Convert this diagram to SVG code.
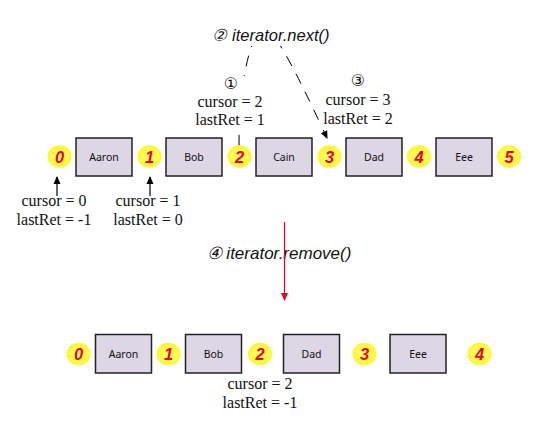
<svg xmlns="http://www.w3.org/2000/svg" width="537" height="427" viewBox="0 0 537 427">
<defs>
<marker id="ab" markerWidth="8" markerHeight="8" refX="7" refY="4" orient="auto" markerUnits="userSpaceOnUse"><path d="M0,0.5 L8,4 L0,7.5 Z" fill="#000"/></marker>
<marker id="ar" markerWidth="8" markerHeight="8" refX="7" refY="4" orient="auto" markerUnits="userSpaceOnUse"><path d="M0,0.5 L8,4 L0,7.5 Z" fill="#E8001C"/></marker>
<radialGradient id="yg" cx="0.5" cy="0.5" r="0.6"><stop offset="0" stop-color="#FFFF80"/><stop offset="1" stop-color="#FFF51E"/></radialGradient>
</defs>
<style>
.box{fill:#DDD6E5;stroke:#222;stroke-width:1.5}
.bt{font-family:"Noto Sans","Liberation Sans",sans-serif;font-size:10.5px;fill:#111;text-anchor:middle}
.el{fill:url(#yg);stroke:none}
.num{font-family:"Liberation Sans",Arial,sans-serif;font-size:16.5px;font-weight:bold;font-style:italic;fill:#F0001C;text-anchor:middle}
.lbl{font-family:"Liberation Serif","DejaVu Serif",serif;font-size:16px;fill:#111;text-anchor:middle}
.circ{font-family:"DejaVu Sans","Noto Sans CJK SC",sans-serif;font-size:16px;fill:#111;text-anchor:middle}
.it{font-family:"Liberation Sans","Noto Sans",sans-serif;font-style:italic;fill:#111;text-anchor:middle}
</style>
<rect width="537" height="427" fill="#fff"/>

<g id="connectors">
<path d="M239,146 C239,60 258,20 268,30 C280,40 300,80 327,138" fill="none" stroke="#000" stroke-width="1" stroke-dasharray="11,9" marker-end="url(#ab)"/>
<line x1="57" y1="196" x2="57" y2="177" stroke="#000" stroke-width="1.2" marker-end="url(#ab)"/>
<line x1="150" y1="196" x2="150" y2="177" stroke="#000" stroke-width="1.2" marker-end="url(#ab)"/>
</g>

<g id="label-next">
<rect x="206" y="25" width="130" height="21" fill="#fff"/>
<text class="it" x="271" y="41" font-size="16.5">② iterator.next()</text>
</g>
<g id="label-1">
<rect x="194" y="76" width="74" height="53" fill="#fff"/>
<text class="circ" x="231" y="89" font-style="italic">①</text>
<text class="lbl" x="230" y="107">cursor = 2</text>
<text class="lbl" x="230" y="125">lastRet = 1</text>
</g>
<g id="label-3">
<rect x="321" y="69" width="76" height="61" fill="#fff"/>
<text class="circ" x="358" y="86">③</text>
<text class="lbl" x="358" y="105">cursor = 3</text>
<text class="lbl" x="358" y="124">lastRet = 2</text>
</g>
<g id="label-0">
<text class="lbl" x="54" y="206">cursor = 0</text>
<text class="lbl" x="54" y="225">lastRet = -1</text>
</g>
<g id="label-1b">
<text class="lbl" x="148" y="206">cursor = 1</text>
<text class="lbl" x="148" y="225">lastRet = 0</text>
</g>

<g id="top-row">
<g id="t0"><ellipse class="el" cx="59.5" cy="156.5" rx="12" ry="11.2"/><text class="num" x="59.5" y="162.5">0</text></g>
<g id="t-aaron"><rect class="box" x="76" y="138" width="56" height="38"/><text class="bt" x="104" y="161">Aaron</text></g>
<g id="t1"><ellipse class="el" cx="149.5" cy="156.5" rx="12" ry="11.2"/><text class="num" x="149.5" y="162.5">1</text></g>
<g id="t-bob"><rect class="box" x="166" y="138" width="56" height="38"/><text class="bt" x="194" y="161">Bob</text></g>
<g id="t2"><ellipse class="el" cx="239.5" cy="156.5" rx="12" ry="11.2"/><text class="num" x="239.5" y="162.5">2</text></g>
<g id="t-cain"><rect class="box" x="256" y="138" width="56" height="38"/><text class="bt" x="284" y="161">Cain</text></g>
<g id="t3"><ellipse class="el" cx="329.5" cy="156.5" rx="12" ry="11.2"/><text class="num" x="329.5" y="162.5">3</text></g>
<g id="t-dad"><rect class="box" x="346" y="138" width="56" height="38"/><text class="bt" x="374" y="161">Dad</text></g>
<g id="t4"><ellipse class="el" cx="419" cy="156.5" rx="12" ry="11.2"/><text class="num" x="419" y="162.5">4</text></g>
<g id="t-eee"><rect class="box" x="436" y="138" width="56" height="38"/><text class="bt" x="464" y="161">Eee</text></g>
<g id="t5"><ellipse class="el" cx="509" cy="156.5" rx="12" ry="11.2"/><text class="num" x="509" y="162.5">5</text></g>
</g>

<g id="label-remove">
<text class="it" x="279" y="259" font-size="17">④ iterator.remove()</text>
</g>
<g id="remove-arrow">
<line x1="284.5" y1="222" x2="284.5" y2="300" stroke="#E8001C" stroke-width="1.2" marker-end="url(#ar)"/>
</g>

<g id="bottom-row">
<g id="b0"><ellipse class="el" cx="78.5" cy="354" rx="12" ry="11.2"/><text class="num" x="78.5" y="360">0</text></g>
<g id="b-aaron"><rect class="box" x="95.5" y="334.5" width="56" height="38.5"/><text class="bt" x="123.5" y="358">Aaron</text></g>
<g id="b1"><ellipse class="el" cx="168.5" cy="354" rx="12" ry="11.2"/><text class="num" x="168.5" y="360">1</text></g>
<g id="b-bob"><rect class="box" x="185.5" y="334.5" width="56" height="38.5"/><text class="bt" x="213.5" y="358">Bob</text></g>
<g id="b2"><ellipse class="el" cx="260" cy="354" rx="12" ry="11.2"/><text class="num" x="260" y="360">2</text></g>
<g id="b-dad"><rect class="box" x="283.5" y="334.5" width="56" height="38.5"/><text class="bt" x="311.5" y="358">Dad</text></g>
<g id="b3"><ellipse class="el" cx="364.5" cy="354" rx="12" ry="11.2"/><text class="num" x="364.5" y="360">3</text></g>
<g id="b-eee"><rect class="box" x="390" y="334.5" width="56" height="38.5"/><text class="bt" x="418" y="358">Eee</text></g>
<g id="b4"><ellipse class="el" cx="479.5" cy="354" rx="12" ry="11.2"/><text class="num" x="479.5" y="360">4</text></g>
</g>

<g id="label-bottom">
<text class="lbl" x="260" y="389">cursor = 2</text>
<text class="lbl" x="260" y="408">lastRet = -1</text>
</g>
</svg>
